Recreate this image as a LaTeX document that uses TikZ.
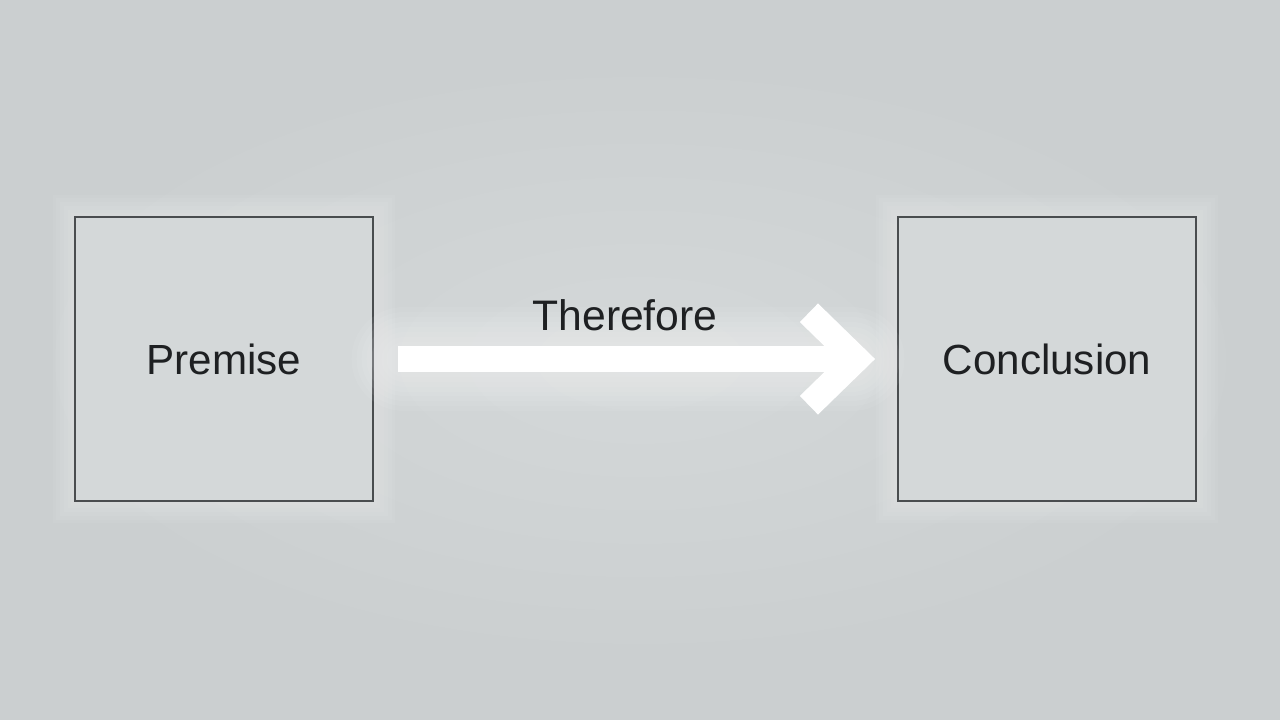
\documentclass[tikz,border=0pt]{standalone}
\usepackage{fontspec}
\setmainfont{Liberation Sans}
\usetikzlibrary{arrows.meta}
\definecolor{bgcol}{HTML}{CBCFD0}
\definecolor{bgmid}{HTML}{D4D8D9}
\definecolor{boxfill}{HTML}{D4D8D9}
\definecolor{edgecol}{HTML}{4A4D4F}
\definecolor{txtcol}{HTML}{1E2022}
\tikzset{
  card/.style={draw=edgecol, line width=0.04cm, fill=boxfill,
    minimum width=5.96cm, minimum height=5.68cm, inner sep=0pt,
    font=\fontsize{24}{28}\selectfont, text=txtcol},
  cardglow/.style={draw=white, line width=#1, draw opacity=0.05,
    minimum width=5.96cm, minimum height=5.68cm, inner sep=0pt},
  bigarrow/.style={draw=white, line width=0.52cm, line cap=butt,
    -{Straight Barb[sharp, length=0.95cm, width=1.85cm, line width=0.52cm]}},
  arrowglow/.style={draw=white, line width=#1, line cap=round, draw opacity=0.06},
  lbl/.style={font=\fontsize{24.3}{28}\selectfont, text=txtcol}
}
\begin{document}
\begin{tikzpicture}[x=0.02cm, y=-0.02cm]
\useasboundingbox (0,0) rectangle (1280,720);
\fill[bgcol] (0,0) rectangle (1280,720);
\shade[inner color=bgmid, outer color=bgcol] (640,360) ellipse (620 and 300);
% glows
\foreach \w in {0.15cm,0.3cm,0.45cm,0.6cm,0.75cm,0.9cm}{
  \node[cardglow=\w] at (224,359) {};
  \node[cardglow=\w] at (1047,359) {};
}
\node[card] (prem) at (224,359) {Premise};
\node[card] (conc) at (1047,359) {Conclusion};
\foreach \w in {0.7cm,0.9cm,1.1cm,1.3cm,1.5cm,1.7cm,1.9cm,2.1cm}{
  \draw[arrowglow=\w, shorten <=0.6cm, shorten >=0.9cm] (prem.east) -- (conc.west);
}
\draw[bigarrow, shorten <=0.48cm, shorten >=0.44cm] (prem.east) -- (conc.west);
\node[lbl] (thr) at (625,315) {Therefore};
\end{tikzpicture}
\end{document}
